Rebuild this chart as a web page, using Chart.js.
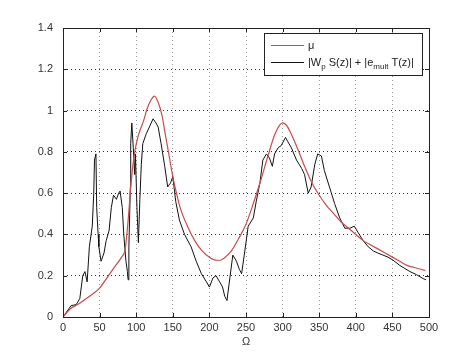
<!DOCTYPE html>
<html>
<head>
<meta charset="utf-8">
<script src="https://cdn.jsdelivr.net/npm/chart.js@4.4.0/dist/chart.umd.min.js"></script>
<style>
  html, body { margin: 0; padding: 0; background: #fff; }
  #wrap { width: 474px; height: 355px; }
</style>
</head>
<body>
<div id="wrap"><canvas id="myChart" width="474" height="355"></canvas></div>
<script>
// mu curve (red)
var muOmega = [0, 5, 10, 20, 30, 40, 50, 60, 70, 80, 85, 89, 93, 98, 103, 110, 115, 120, 125, 130, 135, 140, 145, 150, 155, 160, 170, 180, 190, 200, 210, 215, 220, 230, 240, 250, 260, 270, 280, 290, 300, 305, 310, 320, 330, 340, 350, 360, 370, 380, 390, 400, 410, 420, 430, 440, 450, 460, 470, 480, 490, 495];
var muVals = [0, 0.02, 0.04, 0.06, 0.085, 0.11, 0.14, 0.19, 0.24, 0.29, 0.33, 0.47, 0.65, 0.8, 0.88, 0.95, 1.01, 1.05, 1.07, 1.04, 0.98, 0.88, 0.78, 0.68, 0.6, 0.53, 0.44, 0.37, 0.32, 0.29, 0.275, 0.275, 0.285, 0.32, 0.38, 0.45, 0.55, 0.66, 0.78, 0.89, 0.94, 0.93, 0.9, 0.82, 0.73, 0.65, 0.59, 0.54, 0.5, 0.46, 0.43, 0.4, 0.37, 0.35, 0.33, 0.31, 0.29, 0.27, 0.25, 0.24, 0.23, 0.225];

// |Wp S(z)| + |e_mult T(z)| (black)
var bOmega = [2, 11, 18, 23, 27, 30, 33, 36, 40, 42, 43, 45, 46, 48, 49, 52, 56, 59, 63, 66, 69, 73, 76, 78, 81, 83, 86, 88, 89, 90, 92, 92.5, 94, 96, 98, 99, 101, 103, 105, 107, 109, 114, 118, 123, 127, 130, 134, 139, 143, 147, 150, 154, 159, 166, 175, 182, 189, 196, 200, 205, 209, 214, 218, 221, 224, 228, 232, 237, 241, 244, 248, 253, 260, 264, 269, 273, 278, 282, 286, 289, 294, 298, 304, 307, 312, 319, 326, 330, 335, 339, 344, 348, 353, 357, 364, 371, 378, 385, 392, 398, 403, 410, 417, 424, 430, 437, 444, 451, 460, 467, 474, 483, 492, 496];
var bVals = [0.01, 0.055, 0.06, 0.09, 0.2, 0.22, 0.17, 0.34, 0.44, 0.6, 0.76, 0.79, 0.53, 0.4, 0.34, 0.27, 0.31, 0.37, 0.42, 0.53, 0.59, 0.57, 0.6, 0.61, 0.53, 0.4, 0.27, 0.22, 0.18, 0.34, 0.63, 0.84, 0.94, 0.82, 0.69, 0.79, 0.53, 0.36, 0.57, 0.74, 0.84, 0.89, 0.92, 0.96, 0.94, 0.92, 0.84, 0.73, 0.63, 0.65, 0.68, 0.56, 0.47, 0.4, 0.34, 0.27, 0.21, 0.17, 0.145, 0.19, 0.2, 0.17, 0.145, 0.1, 0.08, 0.19, 0.3, 0.27, 0.23, 0.21, 0.31, 0.44, 0.48, 0.56, 0.65, 0.76, 0.79, 0.77, 0.73, 0.79, 0.82, 0.83, 0.87, 0.85, 0.82, 0.76, 0.72, 0.69, 0.6, 0.63, 0.74, 0.79, 0.78, 0.71, 0.63, 0.55, 0.48, 0.43, 0.43, 0.44, 0.41, 0.37, 0.34, 0.32, 0.31, 0.3, 0.29, 0.275, 0.25, 0.235, 0.22, 0.205, 0.186, 0.18];

var xTicks = [0, 50, 100, 150, 200, 250, 300, 350, 400, 450, 500];
var yTicks = [0, 0.2, 0.4, 0.6, 0.8, 1, 1.2, 1.4];

var redColor = "#c94c4c";
var font = { family: "'Liberation Sans', Arial, sans-serif", size: 11 };

function pts(xs, ys) {
    return xs.map(function (x, i) { return { x: x, y: ys[i] }; });
}

// box around the plot, inward tick marks, legend
var framePlugin = {
    id: "frame",
    afterDraw: function (chart) {
        var c = chart.ctx, a = chart.chartArea;
        var sx = chart.scales.x, sy = chart.scales.y;
        c.save();
        c.strokeStyle = "#222";
        c.lineWidth = 1;
        c.setLineDash([]);
        c.strokeRect(a.left + 0.5, a.top + 0.5, a.right - a.left, a.bottom - a.top);
        c.beginPath();
        xTicks.forEach(function (v) {
            var px = Math.round(sx.getPixelForValue(v)) + 0.5;
            c.moveTo(px, a.bottom); c.lineTo(px, a.bottom - 4);
            c.moveTo(px, a.top); c.lineTo(px, a.top + 4);
        });
        yTicks.forEach(function (v) {
            var py = Math.round(sy.getPixelForValue(v)) + 0.5;
            c.moveTo(a.left, py); c.lineTo(a.left + 4, py);
            c.moveTo(a.right, py); c.lineTo(a.right - 4, py);
        });
        c.stroke();

        // legend
        var lx = 264, ly = 33, lw = 158, lh = 42;
        c.fillStyle = "#fff";
        c.fillRect(lx, ly, lw, lh);
        c.strokeRect(lx + 0.5, ly + 0.5, lw, lh);
        c.lineWidth = 1.2;
        c.strokeStyle = redColor;
        c.beginPath(); c.moveTo(271, 45.5); c.lineTo(304, 45.5); c.stroke();
        c.strokeStyle = "#111";
        c.beginPath(); c.moveTo(271, 62.5); c.lineTo(304, 62.5); c.stroke();

        c.fillStyle = "#222";
        c.textBaseline = "alphabetic";
        c.font = "11px 'Liberation Sans', Arial, sans-serif";
        c.fillText("\u03bc", 308, 49);
        var parts = [["|W", 0], ["p", 1], [" S(z)| + |e", 0], ["mult", 1], [" T(z)|", 0]];
        var tx = 308;
        parts.forEach(function (p) {
            if (p[1]) {
                c.font = "8px 'Liberation Sans', Arial, sans-serif";
                c.fillText(p[0], tx, 69);
            } else {
                c.font = "11px 'Liberation Sans', Arial, sans-serif";
                c.fillText(p[0], tx, 66);
            }
            tx += c.measureText(p[0]).width;
        });
        c.restore();
    }
};

var ctx = document.getElementById("myChart").getContext("2d");

var myChart = new Chart(ctx, {
    type: "line",
    data: {
        datasets: [{
            label: "\u03bc",
            data: pts(muOmega, muVals),
            borderColor: redColor,
            borderWidth: 1.2,
            pointRadius: 0,
            tension: 0.3,
            cubicInterpolationMode: "monotone",
            fill: false
        }, {
            label: "|Wp S(z)| + |e_mult T(z)|",
            data: pts(bOmega, bVals),
            borderColor: "#111",
            borderWidth: 1,
            pointRadius: 0,
            tension: 0,
            fill: false
        }]
    },
    options: {
        responsive: false,
        animation: false,
        layout: { padding: { top: 28, right: 45, left: 0, bottom: 0 } },
        plugins: {
            legend: { display: false },
            tooltip: { enabled: false }
        },
        scales: {
            x: {
                type: "linear",
                min: 0,
                max: 500,
                afterBuildTicks: function (s) { s.ticks = xTicks.map(function (v) { return { value: v }; }); },
                afterFit: function (s) { s.height = 38; },
                ticks: { color: "#333", font: font, padding: 4, maxRotation: 0 },
                grid: { color: "#999", drawTicks: false, lineWidth: 1 },
                border: { display: false, dash: [1, 3] },
                title: { display: true, text: "\u03a9", color: "#333", font: font, padding: { top: 0, bottom: 6 } }
            },
            y: {
                min: 0,
                max: 1.4,
                afterBuildTicks: function (s) { s.ticks = yTicks.map(function (v) { return { value: v }; }); },
                afterFit: function (s) { s.width = 63; },
                ticks: {
                    color: "#333", font: font, padding: 10,
                    callback: function (v) { return String(Math.round(v * 10) / 10); }
                },
                grid: { color: "#333", drawTicks: false, lineWidth: 1 },
                border: { display: false, dash: [1, 3] }
            }
        }
    },
    plugins: [framePlugin]
});
</script>
</body>
</html>
